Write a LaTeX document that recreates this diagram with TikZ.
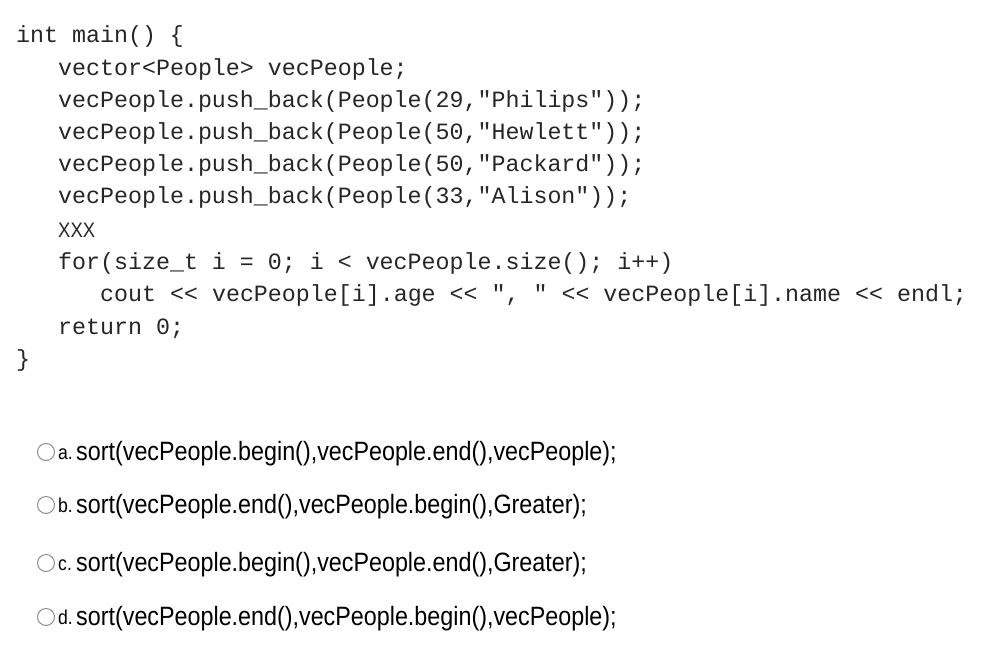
\documentclass[tikz,border=0pt]{standalone}
\usepackage{fontspec}
\setmonofont{Liberation Mono}
\newfontfamily\optfont[FakeStretch=0.88]{Liberation Sans}
\begin{document}
\begin{tikzpicture}[x=1pt,y=-1pt,
  code/.style={anchor=base west,inner sep=0,font=\fontsize{23.3}{23}\ttfamily,text=black!85},
  opt/.style={anchor=base west,inner sep=0,font=\fontsize{26.5}{26}\optfont},
  lab/.style={anchor=base west,inner sep=0,font=\fontsize{20}{20}\optfont},
  radio/.style={draw=black!45,line width=1pt,circle,minimum size=17pt,inner sep=0}]
\useasboundingbox (0,0) rectangle (1006,656);
\node[code] (l1) at (16,42) {int main() \{};
\node[code] (l2) at (58,75) {vector<People> vecPeople;};
\node[code] (l3) at (58,107) {vecPeople.push\_back(People(29,"Philips"));};
\node[code] (l4) at (58,139) {vecPeople.push\_back(People(50,"Hewlett"));};
\node[code] (l5) at (58,171) {vecPeople.push\_back(People(50,"Packard"));};
\node[code] (l6) at (58,203) {vecPeople.push\_back(People(33,"Alison"));};
\node[anchor=base west,inner sep=0,font=\fontsize{21}{21}\optfont,text=black!85] (l7) at (58,237) {XXX};
\node[code] (l8) at (58,269) {for(size\_t i = 0; i < vecPeople.size(); i++)};
\node[code] (l9) at (100,301) {cout << vecPeople[i].age << ",  " << vecPeople[i].name << endl;};
\node[code] (l10) at (58,334) {return 0;};
\node[code] (l11) at (16,366) {\}};
\foreach \y/\l/\t [count=\i] in {452/a./{sort(vecPeople.begin(),vecPeople.end(),vecPeople);},
  505/b./{sort(vecPeople.end(),vecPeople.begin(),Greater);},
  563/c./{sort(vecPeople.begin(),vecPeople.end(),Greater);},
  617/d./{sort(vecPeople.end(),vecPeople.begin(),vecPeople);}}{
  \node[radio] (r\i) at (46,\y) {};
  \node[lab] (a\i) at (58,\y+7) {\l};
  \node[opt] (o\i) at (76,\y+8) {\t};
}
\end{tikzpicture}
\end{document}
